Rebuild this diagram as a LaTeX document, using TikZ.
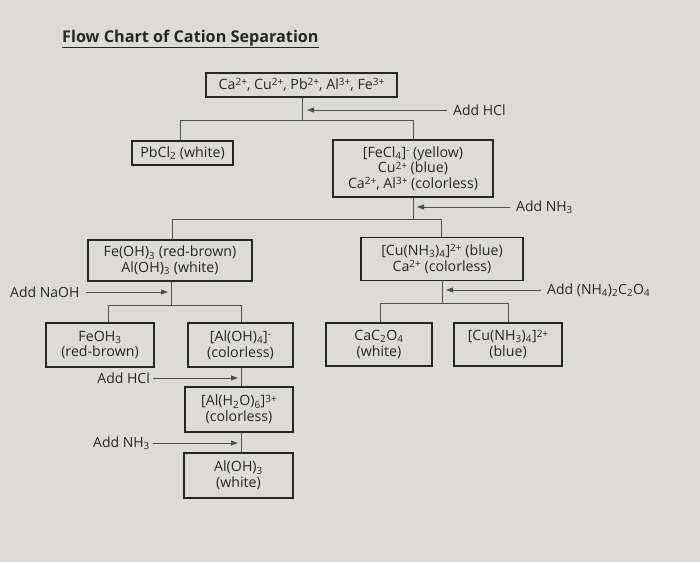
\documentclass[tikz,border=0pt]{standalone}
\usepackage{fontspec}
\setmainfont{Open Sans}
\usetikzlibrary{arrows.meta}
\definecolor{pagebg}{RGB}{221,219,214}
\definecolor{ink}{RGB}{38,38,38}
\definecolor{linec}{RGB}{80,80,80}
\tikzset{
  box/.style={draw=ink, line width=1.3pt, text=ink, align=center, inner sep=0pt,
    font=\fontsize{14.2}{15.6}\selectfont},
  lbl/.style={text=ink, inner sep=0pt, font=\fontsize{14}{15}\selectfont},
  conn/.style={draw=linec, line width=0.9pt},
  arr/.style={draw=linec, line width=0.9pt, -{Triangle[length=7pt,width=5pt]}},
}
\newcommand{\sub}[1]{\textsubscript{#1}}
\newcommand{\sups}[1]{\raisebox{3.6pt}[0pt][0pt]{\fontsize{10}{10}\selectfont #1}}
\begin{document}
\begin{tikzpicture}[x=1pt,y=-1pt]
\fill[pagebg] (0,0) rectangle (700,562);
\useasboundingbox (0,0) rectangle (700,562);

% title
\node[anchor=base west, text=ink, inner sep=0pt, font=\fontsize{16.2}{18}\selectfont\bfseries]
  (title) at (62,42) {\underline{Flow Chart of Cation Separation}};

% boxes
\node[box, minimum width=191pt, minimum height=24pt] (b0) at (301.5,85)
  {Ca\sups{2+}, Cu\sups{2+}, Pb\sups{2+}, Al\sups{3+}, Fe\sups{3+}};
\node[box, minimum width=101pt, minimum height=24pt] (pb) at (182.5,153)
  {PbCl\sub{2} (white)};
\node[box, minimum width=160pt, minimum height=57pt] (fe) at (413,168.5)
  {[FeCl\sub{4}]\sups{-} (yellow)\\ Cu\sups{2+} (blue)\\ Ca\sups{2+}, Al\sups{3+} (colorless)};
\node[box, minimum width=164pt, minimum height=41pt] (ab) at (170,260.5)
  {Fe(OH)\sub{3} (red-brown)\\ Al(OH)\sub{3} (white)};
\node[box, minimum width=162pt, minimum height=43pt] (cu) at (442,259)
  {[Cu(NH\sub{3})\sub{4}]\sups{2+} (blue)\\ Ca\sups{2+} (colorless)};
\node[box, minimum width=108pt, minimum height=44pt] (feoh) at (100,345)
  {FeOH\sub{3}\\ (red-brown)};
\node[box, minimum width=105pt, minimum height=44pt] (aloh4) at (240.5,345)
  {[Al(OH)\sub{4}]\sups{-}\\ (colorless)};
\node[box, minimum width=106pt, minimum height=43pt] (cac) at (379,344.5)
  {CaC\sub{2}O\sub{4}\\ (white)};
\node[box, minimum width=108pt, minimum height=43pt] (cu2) at (508,344.5)
  {[Cu(NH\sub{3})\sub{4}]\sups{2+}\\ (blue)};
\node[box, minimum width=108pt, minimum height=45pt] (alh) at (239,409.5)
  {[Al(H\sub{2}O)\sub{6}]\sups{3+}\\ (colorless)};
\node[box, minimum width=109pt, minimum height=45pt] (aloh3) at (238.5,475.5)
  {Al(OH)\sub{3}\\ (white)};

% reagent labels
\node[lbl, anchor=west] (hcl1) at (453,110) {Add HCl};
\node[lbl, anchor=west] (nh1) at (516,207) {Add NH\sub{3}};
\node[lbl, anchor=west] (naoh) at (10,292) {Add NaOH};
\node[lbl, anchor=west] (ox) at (547,290) {Add (NH\sub{4})\sub{2}C\sub{2}O\sub{4}};
\node[lbl, anchor=east] (hcl2) at (150,378) {Add HCl};
\node[lbl, anchor=east] (nh2) at (150,443) {Add NH\sub{3}};

% junctions
\coordinate (j1) at (302,120);
\coordinate (j2) at (413,219);
\coordinate (j3) at (171,305);
\coordinate (j4) at (442,303);
\coordinate (l1) at (180,120);
\coordinate (l2) at (172,219);
\coordinate (l2r) at (441,219);
\coordinate (l3) at (108,305);
\coordinate (l3r) at (241,305);
\coordinate (l4) at (380,303);
\coordinate (l4r) at (508,303);

% tree connectors
\draw[conn] (b0.south -| j1) -- (j1);
\draw[conn] (l1) -- (fe.north |- j1);
\draw[conn] (l1) -- (l1 |- pb.north);
\draw[conn] (fe.north |- j1) -- (fe.north);

\draw[conn] (fe.south) -- (j2);
\draw[conn] (l2) -- (l2r);
\draw[conn] (l2) -- (l2 |- ab.north);
\draw[conn] (l2r) -- (l2r |- cu.north);

\draw[conn] (ab.south -| j3) -- (j3);
\draw[conn] (l3) -- (l3r);
\draw[conn] (l3) -- (l3 |- feoh.north);
\draw[conn] (l3r) -- (l3r |- aloh4.north);

\draw[conn] (cu.south) -- (j4);
\draw[conn] (l4) -- (l4r);
\draw[conn] (l4) -- (l4 |- cac.north);
\draw[conn] (l4r) -- (l4r |- cu2.north);

\draw[conn] (aloh4.south -| l3r) -- (l3r |- alh.north);
\draw[conn] (alh.south -| l3r) -- (l3r |- aloh3.north);

% reagent arrows
\draw[arr] ([xshift=-6pt]hcl1.west) -- ([xshift=5pt]j1 |- hcl1.west);
\draw[arr] ([xshift=-6pt]nh1.west) -- ([xshift=4pt]j2 |- nh1.west);
\draw[arr] ([xshift=6pt]naoh.east) -- ([xshift=-3pt]j3 |- naoh.east);
\draw[arr] ([xshift=-6pt]ox.west) -- ([xshift=4pt]j4 |- ox.west);
\draw[arr] ([xshift=3pt]hcl2.east) -- ([xshift=-3pt]l3r |- hcl2.east);
\draw[arr] ([xshift=3pt]nh2.east) -- ([xshift=-3pt]l3r |- nh2.east);
\end{tikzpicture}
\end{document}
